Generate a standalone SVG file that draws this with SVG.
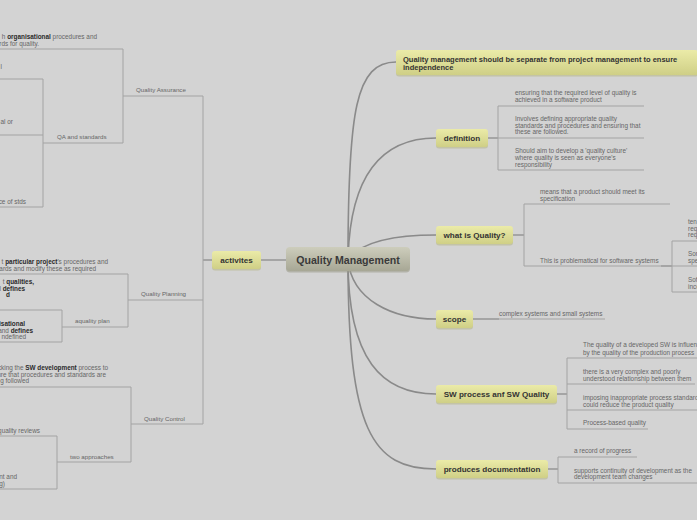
<svg xmlns="http://www.w3.org/2000/svg" width="697" height="520" viewBox="0 0 697 520">
<defs>
<linearGradient id="gNode" x1="0" y1="0" x2="0" y2="1"><stop offset="0" stop-color="#ebeba8"/><stop offset="1" stop-color="#cfcf86"/></linearGradient>
<linearGradient id="gCentral" x1="0" y1="0" x2="0" y2="1"><stop offset="0" stop-color="#cdcdbc"/><stop offset="1" stop-color="#a7a795"/></linearGradient>
<style>
.bg{fill:#d3d3d3}
.ln{stroke:#a3a3a3;stroke-width:1;fill:none}
.cn{stroke:#8c8c8c;stroke-width:1.3;fill:none}
.cv{stroke:#8a8a8a;stroke-width:1.6;fill:none}
.leaf{font-family:"Liberation Sans",Arial,sans-serif;font-size:6.4px;fill:#666}
.leaf tspan.b{font-weight:bold;fill:#2a2a2a}
.lbl{font-family:"Liberation Sans",Arial,sans-serif;font-size:6.2px;fill:#666}
.node rect.box{fill:url(#gNode)}
.node rect.sh{fill:#b9b98a;opacity:0.6}
.nt{font-family:"Liberation Sans",Arial,sans-serif;font-weight:bold;font-size:8.1px;fill:#333}
.nt.sm{font-size:7.5px}
</style>
</defs>
<rect class="bg" x="0" y="0" width="697" height="520"/>

<g id="connectors">
<path class="cv" d="M348,260 C348,110 356,62 396,62"/>
<path class="cv" d="M348,260 C350,170 385,138 436,138"/>
<path class="cv" d="M348,260 C362,240 400,235 436,235"/>
<path class="cv" d="M348,260 C352,300 392,319 436,319"/>
<path class="cv" d="M348,260 C348,360 382,394 436,394"/>
<path class="cv" d="M348,260 C348,430 372,469 436,469"/>
<line class="cn" x1="261" y1="260" x2="286" y2="260"/>

<line class="cn" x1="203" y1="260" x2="212" y2="260"/>
<line class="ln" x1="203" y1="96" x2="203" y2="424"/>
<line class="ln" x1="123" y1="96" x2="203" y2="96"/>
<line class="ln" x1="128" y1="300" x2="203" y2="300"/>
<line class="ln" x1="131" y1="424" x2="203" y2="424"/>
<line class="ln" x1="123" y1="49" x2="123" y2="143"/>
<line class="ln" x1="0" y1="49" x2="123" y2="49"/>
<line class="ln" x1="43" y1="143" x2="123" y2="143"/>
<line class="ln" x1="43" y1="79" x2="43" y2="207"/>
<line class="ln" x1="0" y1="79" x2="43" y2="79"/>
<line class="ln" x1="0" y1="135" x2="43" y2="135"/>
<line class="ln" x1="0" y1="207" x2="43" y2="207"/>
<line class="ln" x1="128" y1="274" x2="128" y2="327"/>
<line class="ln" x1="0" y1="274" x2="128" y2="274"/>
<line class="ln" x1="62" y1="327" x2="128" y2="327"/>
<line class="ln" x1="62" y1="310" x2="62" y2="342"/>
<line class="ln" x1="0" y1="310" x2="62" y2="310"/>
<line class="ln" x1="0" y1="342" x2="62" y2="342"/>
<line class="ln" x1="131" y1="387" x2="131" y2="462"/>
<line class="ln" x1="0" y1="387" x2="131" y2="387"/>
<line class="ln" x1="57" y1="462" x2="131" y2="462"/>
<line class="ln" x1="57" y1="436" x2="57" y2="489"/>
<line class="ln" x1="0" y1="436" x2="57" y2="436"/>
<line class="ln" x1="0" y1="489" x2="57" y2="489"/>

<line class="cn" x1="488" y1="138" x2="498" y2="138"/>
<line class="ln" x1="498" y1="106" x2="498" y2="170"/>
<line class="ln" x1="498" y1="106" x2="644" y2="106"/>
<line class="ln" x1="498" y1="138" x2="644" y2="138"/>
<line class="ln" x1="498" y1="170" x2="644" y2="170"/>
<line class="cn" x1="513" y1="235" x2="524" y2="235"/>
<line class="ln" x1="524" y1="204" x2="524" y2="266"/>
<line class="ln" x1="524" y1="204" x2="670" y2="204"/>
<line class="ln" x1="524" y1="266" x2="661" y2="266"/>
<line class="cn" x1="661" y1="266" x2="672" y2="266"/>
<line class="ln" x1="672" y1="241" x2="672" y2="292"/>
<line class="ln" x1="672" y1="241" x2="697" y2="241"/>
<line class="ln" x1="672" y1="266" x2="697" y2="266"/>
<line class="ln" x1="672" y1="292" x2="697" y2="292"/>
<line class="cn" x1="473" y1="319" x2="499" y2="319"/>
<line class="ln" x1="499" y1="319" x2="605" y2="319"/>
<line class="cn" x1="557" y1="394" x2="567" y2="394"/>
<line class="ln" x1="567" y1="358" x2="567" y2="429"/>
<line class="ln" x1="567" y1="358" x2="697" y2="358"/>
<line class="ln" x1="567" y1="384" x2="695" y2="384"/>
<line class="ln" x1="567" y1="410" x2="697" y2="410"/>
<line class="ln" x1="567" y1="429" x2="648" y2="429"/>
<line class="cn" x1="548" y1="469" x2="558" y2="469"/>
<line class="ln" x1="558" y1="457" x2="558" y2="483"/>
<line class="ln" x1="558" y1="457" x2="637" y2="457"/>
<line class="ln" x1="558" y1="483" x2="697" y2="483"/>
</g>

<g id="n-qa-leaves">
<text class="leaf" x="97" y="39" text-anchor="end">h <tspan class="b">organisational</tspan> procedures and</text>
<text class="leaf" x="39" y="46" text-anchor="end">rds for quality.</text>
<text class="leaf" x="2" y="69" text-anchor="end">l</text>
<text class="leaf" x="13" y="124" text-anchor="end">al or</text>
<text class="leaf" x="26" y="204" text-anchor="end">ce of stds</text>
</g>
<g id="n-qa-standards"><text class="lbl" x="57" y="139">QA and standards</text></g>
<g id="n-quality-assurance"><text class="lbl" x="136" y="92">Quality Assurance</text></g>

<g id="n-qp-leaves">
<text class="leaf" x="108" y="264" text-anchor="end">t <tspan class="b">particular project</tspan>'s procedures and</text>
<text class="leaf" x="96" y="271" text-anchor="end">dards and modify these as required</text>
<text class="leaf" x="34" y="284" text-anchor="end">t <tspan class="b">qualities,</tspan></text>
<text class="leaf" x="25" y="291" text-anchor="end">l <tspan class="b">defines</tspan></text>
<text class="leaf" x="10" y="297" text-anchor="end"><tspan class="b">d</tspan></text>
<text class="leaf" x="25" y="326" text-anchor="end"><tspan class="b">isational</tspan></text>
<text class="leaf" x="33" y="333" text-anchor="end">l and <tspan class="b">defines</tspan></text>
<text class="leaf" x="26" y="339" text-anchor="end">ndefined</text>
</g>
<g id="n-quality-planning"><text class="lbl" x="141" y="296">Quality Planning</text></g>
<g id="n-aquality-plan"><text class="lbl" x="75" y="323">aquality plan</text></g>

<g id="n-qc-leaves">
<text class="leaf" x="108" y="370" text-anchor="end">cking the <tspan class="b">SW development</tspan> process to</text>
<text class="leaf" x="106" y="377" text-anchor="end">ure that procedures and standards are</text>
<text class="leaf" x="29" y="383" text-anchor="end">g followed</text>
<text class="leaf" x="40" y="433" text-anchor="end">quality reviews</text>
<text class="leaf" x="17" y="479" text-anchor="end">nt and</text>
<text class="leaf" x="5" y="486" text-anchor="end">g)</text>
</g>
<g id="n-quality-control"><text class="lbl" x="144" y="421">Quality Control</text></g>
<g id="n-two-approaches"><text class="lbl" x="70" y="459">two approaches</text></g>

<g id="n-definition-leaves">
<text class="leaf" x="515" y="95">ensuring that the required level of quality is</text>
<text class="leaf" x="515" y="102">achieved in a software product</text>
<text class="leaf" x="515" y="121">Involves defining appropriate quality</text>
<text class="leaf" x="515" y="128">standards and procedures and ensuring that</text>
<text class="leaf" x="515" y="134">these are followed.</text>
<text class="leaf" x="515" y="153">Should aim to develop a 'quality culture'</text>
<text class="leaf" x="515" y="160">where quality is seen as everyone's</text>
<text class="leaf" x="515" y="167">responsibility</text>
</g>
<g id="n-quality-leaves">
<text class="leaf" x="540" y="194">means that a product should meet its</text>
<text class="leaf" x="540" y="201">specification</text>
<text class="leaf" x="540" y="263">This is problematical for software systems</text>
<text class="leaf" x="688" y="224">ten</text>
<text class="leaf" x="688" y="231">req</text>
<text class="leaf" x="688" y="237">req</text>
<text class="leaf" x="688" y="256">Sor</text>
<text class="leaf" x="688" y="263">spe</text>
<text class="leaf" x="688" y="282">Sof</text>
<text class="leaf" x="688" y="289">inco</text>
</g>
<g id="n-scope-leaves"><text class="leaf" x="499" y="316">complex systems and small systems</text></g>
<g id="n-swprocess-leaves">
<text class="leaf" x="583" y="347">The quality of a developed SW is influenced</text>
<text class="leaf" x="583" y="355">by the quality of the production process</text>
<text class="leaf" x="583" y="374">there is a very complex and poorly</text>
<text class="leaf" x="583" y="381">understood relationship between them</text>
<text class="leaf" x="583" y="400">imposing inappropriate process standards</text>
<text class="leaf" x="583" y="407">could reduce the product quality</text>
<text class="leaf" x="583" y="425">Process-based quality</text>
</g>
<g id="n-doc-leaves">
<text class="leaf" x="574" y="453">a record of progress</text>
<text class="leaf" x="574" y="473">supports continuity of development as the</text>
<text class="leaf" x="574" y="479">development team changes</text>
</g>

<g id="n-central" class="node">
<rect x="286" y="248.5" width="124" height="24" rx="4" fill="#9d9d8c" opacity="0.6"/>
<rect x="286" y="247" width="124" height="24" rx="4" fill="url(#gCentral)"/>
<text x="348" y="263.5" text-anchor="middle" font-family="Liberation Sans, Arial, sans-serif" font-weight="bold" font-size="10.6" fill="#3a3a3a">Quality Management</text>
</g>
<g id="n-activites" class="node">
<rect class="sh" x="212" y="252.5" width="49" height="18" rx="3"/>
<rect class="box" x="212" y="251" width="49" height="18" rx="3"/>
<text class="nt" x="236.5" y="263" text-anchor="middle">activites</text>
</g>
<g id="n-separate" class="node">
<rect class="sh" x="396" y="51.5" width="302" height="25" rx="3"/>
<rect class="box" x="396" y="50" width="302" height="25" rx="3"/>
<text class="nt sm" x="403" y="62">Quality management should be separate from project management to ensure</text>
<text class="nt sm" x="403" y="70">independence</text>
</g>
<g id="n-definition" class="node">
<rect class="sh" x="436" y="130.5" width="52" height="18" rx="3"/>
<rect class="box" x="436" y="129" width="52" height="18" rx="3"/>
<text class="nt" x="462" y="141" text-anchor="middle">definition</text>
</g>
<g id="n-what-is-quality" class="node">
<rect class="sh" x="436" y="227.5" width="77" height="18" rx="3"/>
<rect class="box" x="436" y="226" width="77" height="18" rx="3"/>
<text class="nt" x="474.5" y="238" text-anchor="middle">what is Quality?</text>
</g>
<g id="n-scope" class="node">
<rect class="sh" x="436" y="311.5" width="37" height="18" rx="3"/>
<rect class="box" x="436" y="310" width="37" height="18" rx="3"/>
<text class="nt" x="454.5" y="322" text-anchor="middle">scope</text>
</g>
<g id="n-sw-process" class="node">
<rect class="sh" x="436" y="386.5" width="121" height="18" rx="3"/>
<rect class="box" x="436" y="385" width="121" height="18" rx="3"/>
<text class="nt" x="496.5" y="397" text-anchor="middle">SW process anf SW Quality</text>
</g>
<g id="n-documentation" class="node">
<rect class="sh" x="436" y="461.5" width="112" height="18" rx="3"/>
<rect class="box" x="436" y="460" width="112" height="18" rx="3"/>
<text class="nt" x="492" y="472" text-anchor="middle">produces documentation</text>
</g>
</svg>
